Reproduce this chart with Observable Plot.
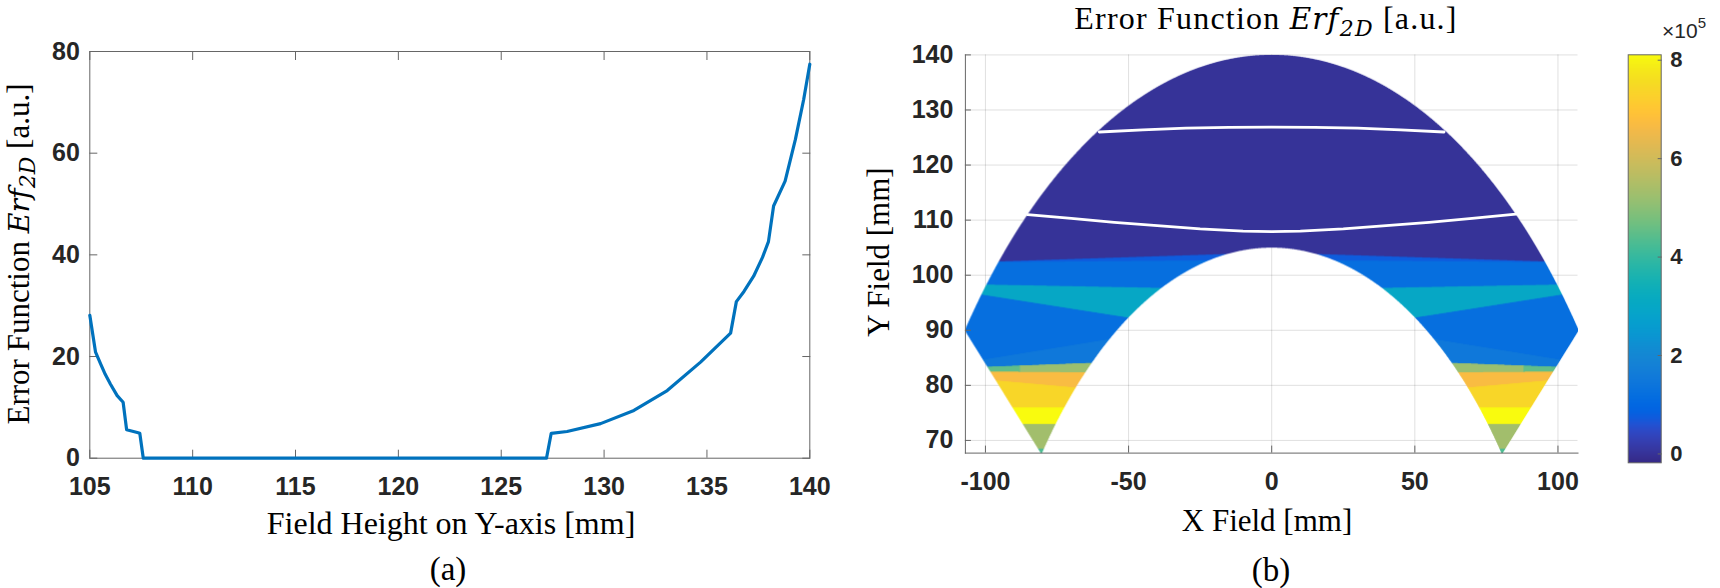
<!DOCTYPE html>
<html>
<head>
<meta charset="utf-8">
<script src="https://cdn.jsdelivr.net/npm/d3@7"></script>
<script src="https://cdn.jsdelivr.net/npm/@observablehq/plot@0.6"></script>
<style>
  html, body { margin: 0; padding: 0; background: #fff; }
  #fig { position: relative; width: 1720px; height: 588px; overflow: hidden; background: #fff; }
  #fig > svg { position: absolute; top: 0; }
</style>
</head>
<body>
<div id="fig"></div>
<script>
// ---------- (a) Erf_2D along the Y axis of the field ----------
const fieldHeight = [105, 105.28, 105.52, 105.75, 106.0, 106.33, 106.62, 106.79, 107.31, 107.43, 107.6,
  127.2, 127.43, 128.2, 129.83, 131.45, 133.07, 134.69, 136.15, 136.43, 136.8, 137.27, 137.7, 137.99,
  138.24, 138.8, 139.3, 139.7, 140];
const erfProfile = [28.1, 20.85, 18.6, 16.5, 14.6, 12.3, 11.0, 5.6, 5.05, 4.9, 0,
  0, 4.9, 5.25, 6.8, 9.4, 13.3, 18.9, 24.6, 30.8, 32.8, 35.8, 39.5, 42.6,
  49.6, 54.5, 62.7, 70.5, 77.5];
const heightTicks = [105, 110, 115, 120, 125, 130, 135, 140];
const erfTicks = [0, 20, 40, 60, 80];

// ---------- (b) Erf_2D over the field ----------
const xFieldDomain = [-107, 107];
const yFieldDomain = [67.7, 140];
const xFieldTicks = [-100, -50, 0, 50, 100];
const yFieldTicks = [70, 80, 90, 100, 110, 120, 130, 140];
const fieldRadius = [105, 140];   // inner and outer radius of the field, mm
const fieldHalfAngle = 50;        // degrees either side of the Y axis

// Band edges, each a straight segment in (|x|, y) from (absX0, y0) to (absX1, y1), top to bottom
const bandEdgeAbsX0 = [18, 18, 40, 50, 58, 63, 65, 68, 70, 75, 78];
const bandEdgeY0    = [103.8, 102.7, 97.7, 92.3, 88.3, 84.1, 82.4, 79.6, 76.0, 73.0, 68.5];
const bandEdgeAbsX1 = [95, 95, 100, 101.6, 97, 99, 97, 94, 90, 88, 82];
const bandEdgeY1    = [102.5, 102.4, 98.3, 96.5, 85.0, 83.4, 82.5, 80.8, 76.0, 73.0, 68.5];
// Erf_2D of each band, from the top band down
const bandValues = [0, 0.75e5, 1.2e5, 3.0e5, 1.2e5, 1.5e5, 5.2e5, 6.7e5, 7.4e5, 8.11e5, 5.3e5, 4.3e5];
// the thin band under the blue region turns teal-green towards the outer edge
const stripBand = 6;
const stripSplitAbsX = 88;
const stripOuterValue = 4.5e5;

// white contour traces across the dark region
const upperTraceX = [-60.2, -45, -30, -15, 0, 15, 30, 45, 60.2];
const upperTraceY = [126.0, 126.4, 126.7, 126.85, 126.9, 126.85, 126.7, 126.4, 126.0];
const lowerTraceX = [-85.3, -70, -55, -40, -25, -10, 0, 10, 25, 40, 55, 70, 85.3];
const lowerTraceY = [111.0, 110.3, 109.6, 109.0, 108.4, 108.0, 107.9, 108.0, 108.4, 109.0, 109.6, 110.3, 111.1];

const colorLimits = [-0.18e5, 8.11e5];
const colorTicks = [0, 2e5, 4e5, 6e5, 8e5];

// parula colormap
const parulaRGB = [
  [0.2081,0.1663,0.5292],[0.2116,0.1898,0.5777],[0.2123,0.2138,0.6270],[0.2081,0.2386,0.6771],
  [0.1959,0.2645,0.7279],[0.1707,0.2919,0.7792],[0.1253,0.3242,0.8303],[0.0591,0.3598,0.8683],
  [0.0117,0.3875,0.8820],[0.0060,0.4086,0.8828],[0.0165,0.4266,0.8786],[0.0329,0.4430,0.8720],
  [0.0498,0.4586,0.8641],[0.0629,0.4737,0.8554],[0.0723,0.4887,0.8467],[0.0779,0.5040,0.8384],
  [0.0793,0.5200,0.8312],[0.0749,0.5375,0.8263],[0.0641,0.5570,0.8240],[0.0488,0.5772,0.8228],
  [0.0343,0.5966,0.8199],[0.0265,0.6137,0.8135],[0.0239,0.6287,0.8038],[0.0231,0.6418,0.7913],
  [0.0228,0.6535,0.7768],[0.0267,0.6642,0.7607],[0.0384,0.6743,0.7436],[0.0590,0.6838,0.7254],
  [0.0843,0.6928,0.7062],[0.1133,0.7015,0.6859],[0.1453,0.7098,0.6646],[0.1801,0.7177,0.6424],
  [0.2178,0.7250,0.6193],[0.2586,0.7317,0.5954],[0.3022,0.7376,0.5712],[0.3482,0.7424,0.5473],
  [0.3953,0.7459,0.5244],[0.4420,0.7481,0.5033],[0.4871,0.7491,0.4840],[0.5300,0.7491,0.4661],
  [0.5709,0.7485,0.4494],[0.6099,0.7473,0.4337],[0.6473,0.7456,0.4188],[0.6834,0.7435,0.4044],
  [0.7184,0.7411,0.3905],[0.7525,0.7384,0.3768],[0.7858,0.7356,0.3633],[0.8185,0.7327,0.3498],
  [0.8507,0.7299,0.3360],[0.8824,0.7274,0.3217],[0.9139,0.7258,0.3063],[0.9450,0.7261,0.2886],
  [0.9739,0.7314,0.2666],[0.9938,0.7455,0.2403],[0.9990,0.7653,0.2164],[0.9955,0.7861,0.1967],
  [0.9880,0.8066,0.1794],[0.9789,0.8271,0.1633],[0.9697,0.8481,0.1475],[0.9626,0.8705,0.1309],
  [0.9589,0.8949,0.1132],[0.9598,0.9218,0.0948],[0.9661,0.9514,0.0755],[0.9763,0.9831,0.0538]
];
const parula = parulaRGB.map(([r, g, b]) => d3.rgb(r * 255, g * 255, b * 255).formatHex());
const colorScale = {type: "linear", domain: colorLimits, interpolate: d3.piecewise(d3.interpolateRgb, parula)};

// ---------- helpers ----------
function bandEdgeAt(i, ax) {
  const t = (ax - bandEdgeAbsX0[i]) / (bandEdgeAbsX1[i] - bandEdgeAbsX0[i]);
  return bandEdgeY0[i] + t * (bandEdgeY1[i] - bandEdgeY0[i]);
}
function erfAt(x, y) {
  const r = Math.hypot(x, y);
  const ang = Math.atan2(Math.abs(x), y) * 180 / Math.PI;
  if (r < fieldRadius[0] || r > fieldRadius[1] || ang > fieldHalfAngle) return NaN;
  const ax = Math.abs(x);
  let k = 0;
  while (k < bandEdgeY0.length && y < bandEdgeAt(k, ax)) k++;
  if (k === stripBand && ax >= stripSplitAbsX) return stripOuterValue;
  return bandValues[k];
}
const plainNumber = d => String(d);   // hyphen-minus, as in the MATLAB export

const axisInk = "#262626";
const boxInk = "#666";
const baseStyle = {
  fontFamily: "'Liberation Sans', Arial, sans-serif",
  fontWeight: "bold",
  fontSize: "25px",
  color: axisInk,
  background: "none",
  overflow: "visible"
};
const fig = document.getElementById("fig");

// ---------- panel (a) ----------
const profile = fieldHeight.map((h, i) => ({h, erf: erfProfile[i]}));
const plotA = Plot.plot({
  width: 830, height: 588,
  marginLeft: 89.3, marginRight: 20.7, marginTop: 51, marginBottom: 130.3,
  style: baseStyle,
  x: {domain: [105, 140]},
  y: {domain: [0, 80]},
  marks: [
    Plot.frame({stroke: boxInk}),
    Plot.axisX({ticks: heightTicks, tickSize: -8, tickPadding: 27.5, tickFormat: plainNumber, label: null, stroke: boxInk}),
    Plot.axisX({ticks: heightTicks, anchor: "top", tickSize: -8, tickFormat: () => "", label: null, stroke: boxInk}),
    Plot.axisY({ticks: erfTicks, tickSize: -8, tickPadding: 18, tickFormat: plainNumber, label: null, stroke: boxInk}),
    Plot.axisY({ticks: erfTicks, anchor: "right", tickSize: -8, tickFormat: () => "", label: null, stroke: boxInk}),
    Plot.line(profile, {x: "h", y: "erf", stroke: "#0072BD", strokeWidth: 3.2})
  ]
});
plotA.style.left = "0px";
fig.appendChild(plotA);

// ---------- panel (b) ----------
const upperTrace = upperTraceX.map((x, i) => ({x, y: upperTraceY[i]}));
const lowerTrace = lowerTraceX.map((x, i) => ({x, y: lowerTraceY[i]}));
const plotB = Plot.plot({
  width: 750, height: 588,
  marginLeft: 114.9, marginRight: 22.5, marginTop: 54.4, marginBottom: 135.4,
  style: baseStyle,
  x: {domain: xFieldDomain},
  y: {domain: yFieldDomain},
  color: colorScale,
  marks: [
    Plot.gridX(xFieldTicks, {stroke: axisInk, strokeOpacity: 0.14}),
    Plot.gridY(yFieldTicks, {stroke: axisInk, strokeOpacity: 0.14}),
    Plot.raster({
      fill: erfAt,
      x1: xFieldDomain[0], x2: xFieldDomain[1], y1: yFieldDomain[0], y2: yFieldDomain[1],
      pixelSize: 0.25
    }),
    Plot.line(upperTrace, {x: "x", y: "y", stroke: "white", strokeWidth: 2.8}),
    Plot.line(lowerTrace, {x: "x", y: "y", stroke: "white", strokeWidth: 2.8}),
    Plot.frame({anchor: "left", stroke: boxInk}),
    Plot.frame({anchor: "bottom", stroke: boxInk}),
    Plot.axisX({ticks: xFieldTicks, tickSize: -7, tickPadding: 26.5, tickFormat: plainNumber, label: null, stroke: boxInk}),
    Plot.axisY({ticks: yFieldTicks, tickSize: -6, tickPadding: 18, tickFormat: plainNumber, label: null, stroke: boxInk})
  ]
});
plotB.style.left = "850px";
fig.appendChild(plotB);

// ---------- colorbar ----------
const plotC = Plot.plot({
  width: 120, height: 588,
  marginLeft: 27.7, marginRight: 59.3, marginTop: 54.3, marginBottom: 125.7,
  style: {...baseStyle, fontSize: "22px"},
  x: {domain: [0, 1], axis: null},
  y: {domain: colorLimits},
  color: colorScale,
  marks: [
    Plot.raster({fill: (x, y) => y, x1: 0, x2: 1, y1: colorLimits[0], y2: colorLimits[1], pixelSize: 1}),
    Plot.frame({stroke: boxInk}),
    Plot.axisY({ticks: colorTicks, anchor: "right", tickSize: -4, tickPadding: 13,
      tickFormat: d => String(d / 1e5), label: null, stroke: boxInk})
  ]
});
plotC.style.left = "1600px";
fig.appendChild(plotC);

// ---------- titles, axis labels and panel letters ----------
const NS = "http://www.w3.org/2000/svg";
const overlay = document.createElementNS(NS, "svg");
overlay.setAttribute("width", 1720);
overlay.setAttribute("height", 588);
overlay.style.left = "0px";
overlay.style.pointerEvents = "none";
fig.appendChild(overlay);

const serif = "'Liberation Serif', 'Times New Roman', serif";
const mathFont = "'DejaVu Serif', serif";

function addText({x, y, size, rotate = 0, parts, family = serif, weight = "normal", fill = "#000",
                  anchor = "middle", spacing = 0}) {
  const t = document.createElementNS(NS, "text");
  t.setAttribute("transform", `translate(${x},${y}) rotate(${rotate})`);
  t.setAttribute("text-anchor", anchor);
  t.setAttribute("font-family", family);
  t.setAttribute("font-size", size);
  t.setAttribute("font-weight", weight);
  t.setAttribute("fill", fill);
  if (spacing) t.setAttribute("letter-spacing", spacing);
  for (const p of parts) {
    const s = document.createElementNS(NS, "tspan");
    s.textContent = p.text;
    if (p.family) s.setAttribute("font-family", p.family);
    if (p.italic) s.setAttribute("font-style", "italic");
    if (p.size) s.setAttribute("font-size", p.size);
    if (p.dy) s.setAttribute("dy", p.dy);
    t.appendChild(s);
  }
  overlay.appendChild(t);
}
function erfLabel(size) {
  const sub = Math.round(size * 0.7);
  return [
    {text: "Error Function "},
    {text: "Erf", family: mathFont, italic: true, size: size * 0.92},
    {text: "2D", family: mathFont, italic: true, size: sub, dy: size * 0.22},
    {text: " [a.u.]", dy: -size * 0.22}
  ];
}

// panel (a)
addText({x: 451, y: 534, size: 32, parts: [{text: "Field Height on Y-axis [mm]"}]});
addText({x: 448, y: 580, size: 33, parts: [{text: "(a)"}]});
addText({x: 28.5, y: 254, size: 31, rotate: -90, parts: erfLabel(31)});

// panel (b)
addText({x: 1266, y: 29, size: 32, spacing: 1.2, parts: erfLabel(32)});
addText({x: 889, y: 252, size: 31, rotate: -90, parts: [{text: "Y Field [mm]"}]});
addText({x: 1267, y: 531, size: 31, parts: [{text: "X Field [mm]"}]});
addText({x: 1271, y: 581, size: 33, parts: [{text: "(b)"}]});

// colorbar exponent
addText({x: 1662, y: 38, size: 21, anchor: "start", family: "'Liberation Sans', Arial, sans-serif", fill: axisInk,
  parts: [{text: "×10"}, {text: "5", size: 15, dy: -10}]});
</script>
</body>
</html>
